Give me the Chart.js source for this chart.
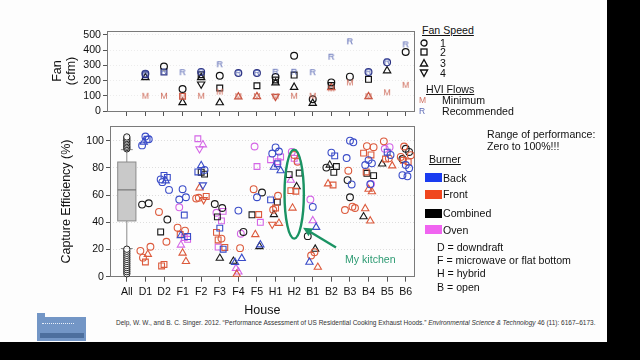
<!DOCTYPE html>
<html><head><meta charset="utf-8">
<script src="https://cdn.jsdelivr.net/npm/chart.js@4.4.1/dist/chart.umd.min.js"></script>
<style>
body{margin:0;width:640px;height:360px;overflow:hidden;position:relative;background:#fdfdfd;font-family:'Liberation Sans',Arial,sans-serif;color:#111}
.t{position:absolute;white-space:nowrap;font-size:10.6px;line-height:12px}
.u{text-decoration:underline}
.sw{position:absolute;width:17px;height:9px}
svg{position:absolute;overflow:visible}
</style></head>
<body>
<div style="position:absolute;left:0;top:0;width:420px;height:125px"><canvas id="c1" width="420" height="125"></canvas></div>
<div style="position:absolute;left:0;top:118px;width:420px;height:200px"><canvas id="c2" width="420" height="200"></canvas></div>

<!-- Fan speed legend -->
<div class="t u" style="left:422px;top:24px">Fan Speed</div>
<svg style="left:420px;top:38.7px" width="8" height="8"><circle cx="4" cy="4" r="3" fill="none" stroke="#111" stroke-width="1.3"/></svg>
<svg style="left:420px;top:48.3px" width="8" height="8"><rect x="1" y="1" width="6" height="6" fill="none" stroke="#111" stroke-width="1.3"/></svg>
<svg style="left:420px;top:58.7px" width="8" height="8"><polygon points="4,0.6 7.6,7 0.4,7" fill="none" stroke="#111" stroke-width="1.3"/></svg>
<svg style="left:420px;top:68.7px" width="8" height="8"><polygon points="0.4,1 7.6,1 4,7.4" fill="none" stroke="#111" stroke-width="1.3"/></svg>
<div class="t" style="left:440px;top:36.7px">1</div>
<div class="t" style="left:440px;top:46.3px">2</div>
<div class="t" style="left:440px;top:56.7px">3</div>
<div class="t" style="left:440px;top:66.7px">4</div>
<div class="t u" style="left:426px;top:83.3px">HVI Flows</div>
<div class="t" style="left:419px;top:94px;color:#d07060;font-size:8.5px">M</div>
<div class="t" style="left:442px;top:94px">Minimum</div>
<div class="t" style="left:419px;top:104.7px;color:#5a68b4;font-size:8.5px">R</div>
<div class="t" style="left:442px;top:104.7px">Recommended</div>

<div class="t" style="left:487px;top:128px">Range of performance:</div>
<div class="t" style="left:487px;top:140px">Zero to 100%!!!</div>

<div class="t u" style="left:429px;top:153px">Burner</div>
<div class="sw" style="left:425px;top:173px;background:#1a3cf0"></div>
<div class="sw" style="left:425px;top:189.5px;background:#f0461e"></div>
<div class="sw" style="left:425px;top:208.5px;background:#000"></div>
<div class="sw" style="left:425px;top:225px;background:#f064f0"></div>
<div class="t" style="left:443px;top:171.5px">Back</div>
<div class="t" style="left:443px;top:188px">Front</div>
<div class="t" style="left:443px;top:207px">Combined</div>
<div class="t" style="left:443px;top:223.5px">Oven</div>

<div class="t" style="left:437px;top:241.3px">D = downdraft</div>
<div class="t" style="left:437px;top:254px">F = microwave or flat bottom</div>
<div class="t" style="left:437px;top:267.3px">H = hybrid</div>
<div class="t" style="left:437px;top:280.7px">B = open</div>

<div class="t" style="left:345px;top:253px;color:#2e9b73">My kitchen</div>

<div class="t" style="left:116px;top:319px;font-size:6.5px;line-height:8px;color:#333">Delp, W. W., and B. C. Singer. 2012. “Performance Assessment of US Residential Cooking Exhaust Hoods.” <i>Environmental Science &amp; Technology</i> 46 (11): 6167–6173.</div>

<!-- logo -->
<div style="position:absolute;left:37px;top:313px;width:8px;height:6px;background:#7396c6"></div>
<div style="position:absolute;left:37px;top:317px;width:49px;height:24px;background:#7396c6"></div>
<div style="position:absolute;left:42px;top:323px;width:32px;height:0;border-top:1.5px dotted #e8eef8"></div>
<div style="position:absolute;left:40px;top:333px;width:44px;height:5px;background:#4d6f9e"></div>

<div style="position:absolute;left:607px;top:0;width:33px;height:360px;background:#000"></div>
<div style="position:absolute;left:0;top:342px;width:640px;height:18px;background:#000"></div>

<script>
// ---------- data ----------
const houses = ['All','D1','D2','F1','F2','F3','F4','F5','H1','H2','B1','B2','B3','B4','B5','B6'];
const fanTicks = [0,100,200,300,400,500];
const ceTicks = [0,20,40,60,80,100];

// Fan flow (cfm) by house index, per fan speed
const fanSpeed1 = [null,245,293,145,257,232,250,250,224,363,77,188,226,256,320,388];
const fanSpeed2 = [null,238,257,97,238,151,null,166,204,236,null,168,null,208,null,null];
const fanSpeed3 = [null,220,null,56,220,55,93,95,185,156,51,155,null,95,265,null];
const fanSpeed4 = [null,null,null,null,177,null,null,null,96,null,null,null,null,null,null,null];
const hviMin = [null,100,100,97,100,127,97,97,97,100,100,148,188,97,123,172];
const hviRec = [null,247,257,255,258,307,250,250,258,258,255,357,458,258,325,438];

// Capture efficiency points: [house, fan speed, CE %]
const backPts = [
 ['D1',1,103],['D1',1,101],['D1',1,96.5],['D1',2,101],['D1',3,99],
 ['D2',2,74.5],['D2',2,73],['D2',1,71.5],['D2',3,70.5],['D2',1,69.5],['D2',1,63.8],
 ['F1',1,64.3],['F1',1,58.4],['F1',1,56.7],['F1',2,45.3],['F1',3,30.3],['F1',2,29.5],
 ['F2',3,81.7],['F2',1,78.5],['F2',2,77],['F2',4,67.4],
 ['F3',2,35.7],['F3',2,20.2],
 ['F4',1,48.6],['F4',3,13.5],['F4',3,10.5],
 ['F5',1,58.4],['F5',3,23.5],
 ['H1',1,95],['H1',1,92],['H1',1,90.5],['H1',2,83],['H1',3,80.5],['H1',3,78],['H1',2,56.5],
 ['B1',1,51.3],['B1',3,36.3],['B1',3,10.7],
 ['B2',1,91.2],['B2',2,88.8],
 ['B3',1,100],['B3',1,98.8],['B3',1,87.2],['B3',1,67.8],
 ['B4',1,85.7],['B4',1,83.3],['B4',1,82.1],['B4',1,67.9],
 ['B5',2,91.5],['B5',1,89.5],
 ['B6',1,82.1],['B6',1,79.7],['B6',1,74.6],['B6',1,73.8]
];
const frontPts = [
 ['D1',1,22],['D1',1,19],['D1',3,16.5],['D1',1,14],['D1',2,10.8],
 ['D2',1,47.6],['D2',1,25.7],['D2',2,7.9],['D2',2,9],
 ['F1',1,36],['F1',1,33.8],['F1',2,31],['F1',3,17.4],['F1',3,11.2],
 ['F2',3,65.3],['F2',2,59],['F2',1,57.5],['F2',4,56.6],['F2',1,58],
 ['F3',2,32.6],['F3',1,28],['F3',2,27],['F3',2,21.5],
 ['F4',1,21],['F4',3,1.9],
 ['F5',1,64.3],['F5',2,45.7],['F5',3,31],
 ['H1',1,59.5],['H1',1,49.2],['H1',2,50.5],['H1',3,39.3],['H1',4,38.5],
 ['H2',1,89.5],['H2',1,84.4],['H2',2,63.3],['H2',2,62.8],['H2',3,50.5],
 ['B1',1,18],['B1',1,15.6],['B1',3,7],
 ['B2',3,68.3],['B2',2,67.4],
 ['B3',1,77.9],['B3',1,50.5],['B3',1,49],['B3',1,51.5],
 ['B4',1,96],['B4',1,95.2],['B4',2,90.8],['B4',2,89.5],['B4',2,77],['B4',3,64.3],['B4',3,62.5],['B4',3,50],['B4',3,41],
 ['B5',1,99.5],['B5',1,87],['B5',2,86.5],['B5',3,81.5],
 ['B6',1,95.7],['B6',1,89.3],['B6',1,88],['B6',2,84.5],['B6',2,85.5]
];
const combinedPts = [
 ['D1',1,54],['D1',1,53],
 ['D2',1,42],['D2',2,32.9],
 ['F2',2,76.8],['F2',2,75.4],
 ['F3',1,53.4],['F3',1,50.5],['F3',2,44],['F3',3,13.6],
 ['F4',1,32.9],['F4',3,11.4],
 ['F5',1,61.9],['F5',2,45.5],['F5',3,22.2],
 ['H1',2,54.8],['H1',3,45.7],
 ['H2',2,76.2],['H2',2,75],['H2',3,66.2],
 ['B1',1,29.8],['B1',3,20.3],
 ['B2',3,82.1],['B2',2,81],['B2',1,80.2],['B2',2,76.7],
 ['B3',1,71],['B3',1,58.4],
 ['B4',2,76],['B4',2,74.3],['B4',3,44.1],
 ['B5',3,82.9],
 ['B6',1,94],['B6',1,91.7],['B6',1,86.5]
];
const ovenPts = [
 ['F1',1,51],['F1',2,28.8],['F1',3,23.3],['F1',2,27.5],
 ['F2',2,101.4],['F2',3,97],['F2',4,94],
 ['F3',2,48],['F3',1,47],['F3',2,41],['F3',2,21.8],
 ['F4',1,31.6],['F4',3,6.1],['F4',3,3.5],
 ['F5',1,95.7],['F5',2,81],['F5',2,40],
 ['H1',2,88],['H1',2,86],['H1',2,84.5],
 ['H2',1,91.7],['H2',2,87],['H2',2,85],['H2',3,71],
 ['B1',1,56.7],['B1',3,41.2],
 ['B4',1,68.2],
 ['B5',1,95.2],['B5',1,94]
];
// "All" box plot: [lower whisker, Q1, median, Q3, upper whisker]
const boxStats = [20.7, 41, 63.8, 84.3, 93.4];
const outliersHigh = [94,95,96,97.2,98.3,99.4,100.5,101.6,102.7];
const outliersLow = [2.2,3.7,5.2,6.7,8.2,9.7,11.2,12.7,14.2,15.7,17.2,18.7,20.2];
// annotation: ellipse around H2, arrow from label
const kitchen = {house:'H2', low:28, high:93.4, tail:[11.25,21.4], head:[9.48,36]};

// ---------- styling ----------
Chart.defaults.font.family = "'Liberation Sans', Arial, sans-serif";
Chart.defaults.color = '#111';
const burnerColors = {back:'#3a4cc8', front:'#dc5a3c', combined:'#1a1a1a', oven:'#d466e6'};
const shapes = {1:{s:'circle',r:3.4,rot:0},2:{s:'rect',r:4.1,rot:0},3:{s:'triangle',r:4.2,rot:0},4:{s:'triangle',r:4.2,rot:180}};

function letterCanvas(ch, color){
  const c = document.createElement('canvas'); c.width = 12; c.height = 12;
  const g = c.getContext('2d');
  g.font = "9px 'Liberation Sans', Arial, sans-serif";
  g.fillStyle = color; g.textAlign='center'; g.textBaseline='middle';
  g.fillText(ch, 6, 6.5);
  return c;
}

const framePlugin = {id:'frame', beforeDatasetsDraw(chart){
  const {ctx, chartArea:a} = chart;
  ctx.save(); ctx.strokeStyle='#7a7a7a'; ctx.lineWidth=1;
  ctx.strokeRect(Math.round(a.left)+0.5, Math.round(a.top)+0.5, Math.round(a.right-a.left)-1, Math.round(a.bottom-a.top));
  ctx.restore();
}};

// ---------- top chart ----------
function topDs(arr, sp){
  const sh = shapes[sp];
  return {
    data: arr.map((v,i)=> v==null?null:{x:i,y:v,h:i}).filter(Boolean),
    pointStyle: sh.s, pointRadius: sh.r, pointRotation: sh.rot,
    pointBackgroundColor:'rgba(0,0,0,0)', pointBorderWidth:1.2,
    pointBorderColor: c => {
      const p = c.raw; if(!p) return '#111';
      if (Math.abs(p.y - hviMin[p.h]) < 12) return '#c8503c';
      if (Math.abs(p.y - hviRec[p.h]) < 12) return '#2a3080';
      return '#111';
    },
    showLine:false, clip:false
  };
}
const topDatasets = [
  {data: hviMin.map((v,i)=> v==null?null:{x:i,y:v}).filter(Boolean), pointStyle: letterCanvas('M','#d07060'), showLine:false, clip:false},
  {data: hviRec.map((v,i)=> v==null?null:{x:i,y:v}).filter(Boolean), pointStyle: letterCanvas('R','#5060b0'), showLine:false, clip:false},
  topDs(fanSpeed1,1), topDs(fanSpeed2,2), topDs(fanSpeed3,3), topDs(fanSpeed4,4)
];

function minorTicks(major){
  const out=[]; for(let i=0;i<major.length;i++){ out.push(major[i]); if(i<major.length-1) out.push((major[i]+major[i+1])/2); }
  return out;
}

new Chart(document.getElementById('c1'), {
  type:'scatter',
  data:{datasets: topDatasets},
  options:{
    responsive:false, animation:false, events:[],
    layout:{padding:{left:0,right:2,top:31,bottom:0}},
    plugins:{legend:{display:false}, tooltip:{enabled:false}},
    scales:{
      x:{type:'linear', min:-1.064, max:15.48,
        afterFit(s){ s.height = 14; },
        afterBuildTicks(s){ s.ticks = houses.map((h,i)=>({value:i})); },
        ticks:{callback:()=> '', autoSkip:false, maxRotation:0, maxTicksLimit:100},
        grid:{drawOnChartArea:false, tickLength:5, tickColor:'#555', color:'#555'},
        border:{display:false}},
      y:{min:0, max:526,
        afterFit(s){ s.width = 107; },
        afterBuildTicks(s){ s.ticks = minorTicks(fanTicks).map(v=>({value:v})); },
        ticks:{callback:v=> fanTicks.includes(v)? String(v):'', padding:2, font:{size:10.6}, maxTicksLimit:100},
        grid:{color:c=> (c.tick && fanTicks.includes(c.tick.value) && c.tick.value>0)?'#ececec':'rgba(0,0,0,0)', tickColor:'#555', tickLength:4},
        border:{display:false, dash:[1,2]},
        title:{display:true, text:['Fan','(cfm)'], font:{size:12.5, lineHeight:1.12}, padding:{top:51,bottom:0}}}
    }
  },
  plugins:[framePlugin]
});

// ---------- bottom chart ----------
const jitterSeq = [0, 0.18, -0.18, 0.09, -0.09, 0.27, -0.27, 0.13, -0.13];
const houseCount = {};
const allPts = [];
[['back',backPts],['front',frontPts],['combined',combinedPts],['oven',ovenPts]].forEach(([b,arr])=>{
  arr.forEach(([h,sp,v])=>{
    const k = houseCount[h] = (houseCount[h]||0)+1;
    allPts.push({b, sp, x: houses.indexOf(h) + jitterSeq[(k-1)%jitterSeq.length], y:v});
  });
});
const bottomDatasets = [];
Object.keys(burnerColors).forEach(b=>{
  [1,2,3,4].forEach(sp=>{
    const d = allPts.filter(p=>p.b===b && p.sp===sp).map(p=>({x:p.x,y:p.y}));
    if(!d.length) return;
    const sh = shapes[sp];
    bottomDatasets.push({data:d, pointStyle:sh.s, pointRadius:sh.r, pointRotation:sh.rot,
      pointBorderColor:burnerColors[b], pointBackgroundColor:'rgba(0,0,0,0)', pointBorderWidth:1.1, showLine:false, clip:false});
  });
});
bottomDatasets.push({data: outliersHigh.concat(outliersLow).map(v=>({x:0,y:v})), pointStyle:'circle', pointRadius:3.2,
  pointBorderColor:'#222', pointBackgroundColor:'rgba(255,255,255,0.9)', pointBorderWidth:1, showLine:false, clip:false});

const boxPlugin = {id:'box', beforeDatasetsDraw(chart){
  const {ctx, scales:{x,y}} = chart;
  const cx = x.getPixelForValue(0);
  const hw = x.getPixelForValue(0.49) - cx;
  const cw = x.getPixelForValue(0.32) - cx;
  const [lo,q1,med,q3,hi] = boxStats.map(v=>y.getPixelForValue(v));
  ctx.save(); ctx.strokeStyle='#8a8a8a'; ctx.lineWidth=1;
  ctx.beginPath();
  ctx.moveTo(cx,q3); ctx.lineTo(cx,hi); ctx.moveTo(cx-cw,hi); ctx.lineTo(cx+cw,hi);
  ctx.moveTo(cx,q1); ctx.lineTo(cx,lo); ctx.moveTo(cx-cw,lo); ctx.lineTo(cx+cw,lo);
  ctx.stroke();
  ctx.fillStyle='#c9c9c9'; ctx.fillRect(cx-hw, q3, 2*hw, q1-q3);
  ctx.strokeRect(cx-hw, q3, 2*hw, q1-q3);
  ctx.strokeStyle='#666'; ctx.beginPath(); ctx.moveTo(cx-hw,med); ctx.lineTo(cx+hw,med); ctx.stroke();
  ctx.restore();
}};
const annoPlugin = {id:'anno', afterDatasetsDraw(chart){
  const {ctx, scales:{x,y}} = chart;
  const hi = houses.indexOf(kitchen.house);
  const cx = x.getPixelForValue(hi), cy = y.getPixelForValue((kitchen.low+kitchen.high)/2);
  const rx = x.getPixelForValue(hi+0.52)-cx, ry = y.getPixelForValue(kitchen.low)-cy;
  ctx.save(); ctx.strokeStyle='#1a9363'; ctx.fillStyle='#1a9363'; ctx.lineWidth=2.4;
  ctx.beginPath(); ctx.ellipse(cx, cy, rx, ry, 0, 0, Math.PI*2); ctx.stroke();
  const tx = x.getPixelForValue(kitchen.tail[0]), ty = y.getPixelForValue(kitchen.tail[1]);
  const hx = x.getPixelForValue(kitchen.head[0]), hy = y.getPixelForValue(kitchen.head[1]);
  const ang = Math.atan2(hy-ty, hx-tx);
  ctx.beginPath(); ctx.moveTo(tx,ty); ctx.lineTo(hx-6*Math.cos(ang), hy-6*Math.sin(ang)); ctx.stroke();
  ctx.beginPath(); ctx.moveTo(hx,hy);
  ctx.lineTo(hx-9*Math.cos(ang)+4.5*Math.sin(ang), hy-9*Math.sin(ang)-4.5*Math.cos(ang));
  ctx.lineTo(hx-9*Math.cos(ang)-4.5*Math.sin(ang), hy-9*Math.sin(ang)+4.5*Math.cos(ang));
  ctx.closePath(); ctx.fill();
  ctx.restore();
}};

new Chart(document.getElementById('c2'), {
  type:'scatter',
  data:{datasets: bottomDatasets},
  options:{
    responsive:false, animation:false, events:[],
    layout:{padding:{left:0,right:2,top:4,bottom:0}},
    plugins:{legend:{display:false}, tooltip:{enabled:false}},
    scales:{
      x:{type:'linear', min:-0.904, max:15.48,
        afterFit(s){ s.height = 41.3; },
        afterBuildTicks(s){ s.ticks = houses.map((h,i)=>({value:i})); },
        ticks:{callback:v=> houses[Math.round(v)], autoSkip:false, maxRotation:0, padding:4, font:{size:10.6}, maxTicksLimit:100},
        grid:{drawOnChartArea:false, tickLength:5, tickColor:'#555', color:'#555'},
        border:{display:false},
        title:{display:true, text:'House', font:{size:12.5}, padding:{top:0,bottom:0}}},
      y:{min:0, max:110.5,
        afterFit(s){ s.width = 110; },
        afterBuildTicks(s){ s.ticks = minorTicks(ceTicks).map(v=>({value:v})); },
        ticks:{callback:v=> ceTicks.includes(v)? String(v):'', padding:2, font:{size:10.6}, maxTicksLimit:100},
        grid:{color:c=> (c.tick && ceTicks.includes(c.tick.value) && c.tick.value>0)?'#dedede':'rgba(0,0,0,0)', tickColor:'#555', tickLength:4},
        border:{display:false, dash:[1,2]},
        title:{display:true, text:'Capture Efficiency (%)', font:{size:12.5}, padding:{top:59.5,bottom:0}}}
    }
  },
  plugins:[framePlugin, boxPlugin, annoPlugin]
});
</script>
</body></html>
